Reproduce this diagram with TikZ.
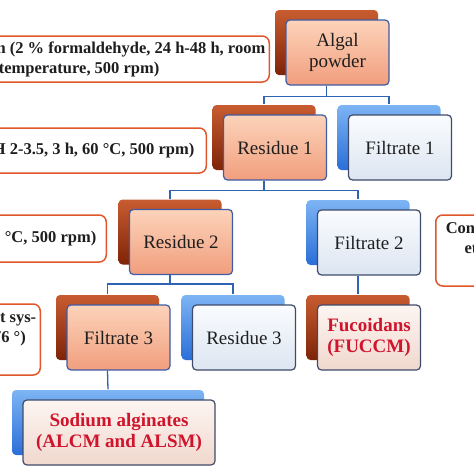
\documentclass[tikz,border=0pt]{standalone}
\usepackage{fontspec}
\setmainfont{Liberation Serif}
\usepackage{tikz}
\usetikzlibrary{positioning, shadows}

\definecolor{rusttop}{HTML}{C85C30}
\definecolor{rustbot}{HTML}{7E2408}
\definecolor{bluetop}{HTML}{7DB4F4}
\definecolor{bluebot}{HTML}{2A6ED8}
\definecolor{salmontop}{HTML}{FCD3BA}
\definecolor{salmonbot}{HTML}{F19E7D}
\definecolor{paletop}{HTML}{FAFCFE}
\definecolor{palebot}{HTML}{DCE5F1}
\definecolor{pinktop}{HTML}{FDF5F1}
\definecolor{pinkbot}{HTML}{F0D8CE}
\definecolor{framesalmon}{HTML}{3F5CA6}
\definecolor{framepale}{HTML}{3E4B6A}
\definecolor{linkblue}{HTML}{2F63B3}
\definecolor{noteorange}{HTML}{E0572B}
\definecolor{redtext}{HTML}{D0142C}
\definecolor{ink}{HTML}{1E1E1E}

\tikzstyle{block} = [rectangle, line width=1.2pt, rounded corners=4pt,
                 minimum width=103pt, minimum height=65pt, align=center,
                 text=ink, font=\fontsize{19}{21}\selectfont]
\tikzstyle{link} = [draw=linkblue, line width=1.3pt]
\tikzset{
	rustback/.style={general shadow={shadow xshift=-11pt, shadow yshift=10pt,
		top color=rusttop, bottom color=rustbot}},
	blueback/.style={general shadow={shadow xshift=-11pt, shadow yshift=10pt,
		top color=bluetop, bottom color=bluebot}},
	salmon/.style={block, rustback, draw=framesalmon,
		top color=salmontop, bottom color=salmonbot},
	pale/.style={block, blueback, draw=framepale,
		top color=paletop, bottom color=palebot},
	product/.style={block, draw=framepale, top color=pinktop, bottom color=pinkbot,
		text=redtext, font=\fontsize{19}{21}\selectfont\bfseries},
	note/.style={rectangle, draw=noteorange, line width=1.5pt, rounded corners=7pt,
		fill=white, align=center, inner sep=4pt, text=ink,
		font=\fontsize{16.5}{20}\selectfont\bfseries},
}

\begin{document}
\begin{tikzpicture}[x=1pt, y=1pt]

\useasboundingbox (0,0) rectangle (474,-474);
\clip (0,0) rectangle (474,-474);

% conditions
\node [note, anchor=east, minimum height=46pt] at (270,-59) (depig)
	{Depigmentation (2 \% formaldehyde, 24 h-48 h, room\\temperature, 500 rpm)};
\node [note, anchor=east, minimum height=45pt, inner xsep=12pt] at (207,-150.5) (acid)
	{(pH 2-3.5, 3 h, 60 °C, 500 rpm)};
\node [note, anchor=east, minimum height=47pt, inner xsep=10pt] at (107,-238.5) (alkali)
	{(60 °C, 500 rpm)};
\node [note, anchor=east, minimum height=71pt] at (41,-339.5) (soxhlet)
	{(Soxhlet sys-\\tem, 76 °)\\\strut};
\node [note, anchor=west, minimum height=71pt, inner xsep=10pt] at (435,-250.5) (concen)
	{Concentration\\ethanolic\\\strut};

% tree
\node [salmon] at (337.5,-52.5) (algal) {Algal\\powder};
\node [salmon] at (275,-147.5) (res1) {Residue 1};
\node [pale] at (400,-147.5) (fil1) {Filtrate 1};
\node [salmon] at (181,-242) (res2) {Residue 2};
\node [pale] at (369,-242.5) (fil2) {Filtrate 2};
\node [salmon] at (118.5,-337.5) (fil3) {Filtrate 3};
\node [pale] at (244,-337.5) (res3) {Residue 3};
\node [product, rustback] at (369,-337.5) (fuc) {Fucoidans\\(FUCCM)};
\node [product, blueback, minimum width=192pt] at (119,-432.5) (sod)
	{Sodium alginates\\(ALCM and ALSM)};

\path [link] ([xshift=-11pt]algal.south) -- ++(0,-11) -| ([shift={(-11pt,10pt)}]res1.north);
\path [link] ([xshift=-11pt]algal.south) -- ++(0,-11) -| ([shift={(-11pt,10pt)}]fil1.north);
\path [link] ([xshift=-11pt]res1.south) -- ++(0,-10) -| ([shift={(-11pt,10pt)}]res2.north);
\path [link] ([xshift=-11pt]res1.south) -- ++(0,-10) -| ([shift={(-11pt,10pt)}]fil2.north);
\path [link] ([xshift=-11pt]res2.south) -- ++(0,-9) -| ([shift={(-11pt,10pt)}]fil3.north);
\path [link] ([xshift=-11pt]res2.south) -- ++(0,-9) -| ([shift={(-11pt,10pt)}]res3.north);
\path [link] ([xshift=-11pt]fil2.south) -- ([shift={(-11pt,10pt)}]fuc.north);
\path [link] ([xshift=-11pt]fil3.south) -- ([shift={(-11pt,10pt)}]sod.north);

\end{tikzpicture}
\end{document}
